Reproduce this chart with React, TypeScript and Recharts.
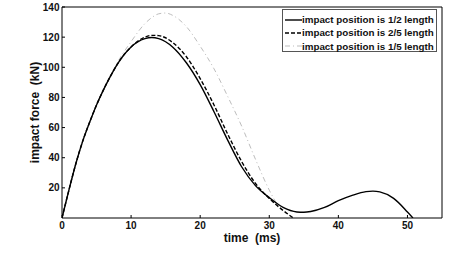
import { LineChart, Line, XAxis, YAxis, Legend, Label } from "recharts";

// impact position 1/2 length (solid)
const halfTime = [0, 1, 2, 3, 4, 5, 6, 7, 8, 10, 12, 13, 14, 16, 18, 20, 22, 24, 26, 28, 30, 32, 34, 35, 36, 38, 40, 42, 44, 45, 46, 48, 50, 50.8];
const halfForce = [0, 18.5, 36, 51, 63.5, 75, 85, 94, 102, 113.5, 119, 119.8, 119, 113.5, 103, 88.5, 70.5, 51.5, 34, 21.5, 13.5, 7, 4, 3.8, 4.3, 7, 11.5, 15, 17.5, 17.8, 17.3, 13, 4, 0];

// impact position 2/5 length (dashed)
const twoFifthTime = [0, 1, 2, 3, 4, 5, 6, 7, 8, 10, 12, 13, 14, 16, 18, 20, 22, 24, 26, 28, 30, 32, 33.5];
const twoFifthForce = [0, 18.5, 36, 51, 63.5, 75, 85, 94, 102, 113.5, 120, 121.2, 121, 116.5, 107, 92.5, 75, 55.5, 37.5, 23, 13, 5, 0];

// impact position 1/5 length (light dash-dot)
const oneFifthTime = [0, 1, 2, 3, 4, 5, 6, 7, 8, 10, 12, 13, 14, 15, 16, 18, 20, 22, 24, 26, 28, 30, 31];
const oneFifthForce = [0, 18.5, 36, 51, 63.5, 75, 85, 94, 103, 117, 129, 133, 135.5, 136, 134.5, 127, 114, 99, 80.5, 61, 39, 18.5, 10];

const xTicks = [0, 10, 20, 30, 40, 50];
const yTicks = [20, 40, 60, 80, 100, 120, 140];

const legendLabels = [
    "impact position is 1/2 length",
    "impact position is 2/5 length",
    "impact position is 1/5 length",
];

const toPoints = (t: number[], f: number[]) => t.map((time, i) => ({ time, force: f[i] }));

const halfData = toPoints(halfTime, halfForce);
const twoFifthData = toPoints(twoFifthTime, twoFifthForce);
const oneFifthData = toPoints(oneFifthTime, oneFifthForce);

const lineStyles = [
    { stroke: "#000", dash: undefined, width: 1.4 },
    { stroke: "#000", dash: "4 2", width: 1.4 },
    { stroke: "#bdbdbd", dash: "5 3 1 3", width: 1 },
];

const tickStyle = { fontSize: 10, fontWeight: "bold", fill: "#111" };

const LegendBox = () => (
    <div
        style={{
            border: "1px solid #555",
            background: "#fff",
            width: 155,
            height: 43,
            boxSizing: "border-box",
            padding: "3px 0 0 2px",
        }}
    >
        {legendLabels.map((label, i) => (
            <div key={label} style={{ display: "flex", alignItems: "center", height: 13.3 }}>
                <svg width={17} height={6}>
                    <line
                        x1={0}
                        y1={3}
                        x2={17}
                        y2={3}
                        stroke={lineStyles[i].stroke}
                        strokeWidth={lineStyles[i].width}
                        strokeDasharray={lineStyles[i].dash}
                    />
                </svg>
                <span style={{ fontSize: 9.8, fontWeight: "bold", color: "#111", whiteSpace: "nowrap" }}>{label}</span>
            </div>
        ))}
    </div>
);

const App = () => {
    return (
        <div style={{ position: "absolute", left: 0, top: 0, width: 474, height: 255, background: "#fff", fontFamily: "'Liberation Sans', Arial, sans-serif" }}>
            <LineChart width={474} height={255} margin={{ top: 6, right: 31, left: 0, bottom: 0 }}>
                <XAxis
                    dataKey="time"
                    type="number"
                    domain={[0, 55]}
                    ticks={xTicks}
                    allowDataOverflow
                    height={37}
                    tickSize={-3}
                    tickMargin={6.5}
                    axisLine={{ stroke: "#000" }}
                    tickLine={{ stroke: "#000" }}
                    tick={tickStyle}
                >
                    <Label value={"time\u00A0\u00A0(ms)"} position="insideBottom" offset={13} style={{ fontSize: 12, fontWeight: "bold", fill: "#111" }} />
                </XAxis>
                <XAxis
                    xAxisId="top"
                    orientation="top"
                    type="number"
                    domain={[0, 55]}
                    ticks={xTicks}
                    height={1}
                    tickSize={-3}
                    tick={false}
                    axisLine={{ stroke: "#000" }}
                    tickLine={{ stroke: "#000" }}
                />
                <YAxis
                    type="number"
                    domain={[0, 140]}
                    ticks={yTicks}
                    allowDataOverflow
                    width={62}
                    tickSize={-3}
                    tickMargin={5.5}
                    axisLine={{ stroke: "#000" }}
                    tickLine={{ stroke: "#000" }}
                    tick={tickStyle}
                >
                    <Label value={"impact force\u00A0\u00A0(kN)"} angle={-90} position="center" dx={4} style={{ fontSize: 12, fontWeight: "bold", fill: "#111", textAnchor: "middle" }} />
                </YAxis>
                <YAxis
                    yAxisId="right"
                    orientation="right"
                    type="number"
                    domain={[0, 140]}
                    ticks={yTicks}
                    width={1}
                    tickSize={-3}
                    tick={false}
                    axisLine={{ stroke: "#000" }}
                    tickLine={{ stroke: "#000" }}
                />
                <Legend
                    layout="horizontal"
                    verticalAlign="middle"
                    align="center"
                    wrapperStyle={{ position: "absolute", left: 282, top: 9, width: 155 }}
                    content={() => <LegendBox />}
                />
                <Line
                    data={oneFifthData}
                    dataKey="force"
                    type="monotone"
                    stroke={lineStyles[2].stroke}
                    strokeWidth={lineStyles[2].width}
                    strokeDasharray={lineStyles[2].dash}
                    dot={false}
                    activeDot={false}
                    isAnimationActive={false}
                />
                <Line
                    data={twoFifthData}
                    dataKey="force"
                    type="monotone"
                    stroke={lineStyles[1].stroke}
                    strokeWidth={lineStyles[1].width}
                    strokeDasharray={lineStyles[1].dash}
                    dot={false}
                    activeDot={false}
                    isAnimationActive={false}
                />
                <Line
                    data={halfData}
                    dataKey="force"
                    type="monotone"
                    stroke={lineStyles[0].stroke}
                    strokeWidth={lineStyles[0].width}
                    dot={false}
                    activeDot={false}
                    isAnimationActive={false}
                />
            </LineChart>
        </div>
    );
};

export default App;
